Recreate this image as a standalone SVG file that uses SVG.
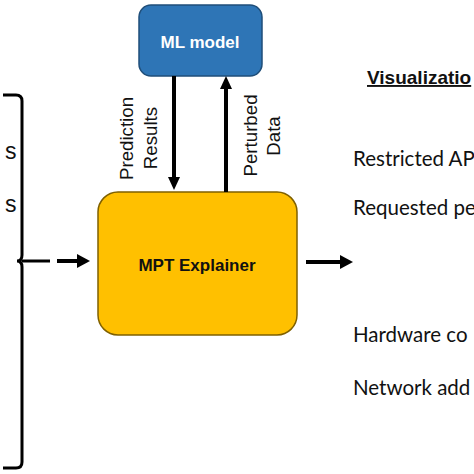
<svg xmlns="http://www.w3.org/2000/svg" width="474" height="474" viewBox="0 0 474 474">
<defs>
<style>
.lbl{font-family:"Liberation Sans",Arial,sans-serif;font-size:18.7px;fill:#111}
.side{font-family:"Liberation Sans",Arial,sans-serif;font-size:23px;fill:#111}
.bold{font-family:"Liberation Sans",Arial,sans-serif;font-weight:bold;font-size:17px}
.item{font-family:Lato,"Liberation Sans",sans-serif;font-size:20.5px;fill:#111}
.conn{stroke:#000;stroke-width:4;fill:none}
.head{fill:#000}
</style>
</defs>
<rect width="474" height="474" fill="#fff"/>
<g id="ml-model">
<rect x="139" y="5" width="123" height="71" rx="12" fill="#2E75B6" stroke="#1F4E79" stroke-width="1.5"/>
<text class="bold" x="200" y="48" text-anchor="middle" fill="#fff">ML model</text>
</g>
<g id="mpt-explainer">
<rect x="98" y="192" width="199" height="143" rx="20" fill="#FFC000" stroke="#7F6000" stroke-width="1.5"/>
<text class="bold" x="197" y="271" text-anchor="middle" fill="#111">MPT Explainer</text>
</g>
<g id="inputs">
<path d="M3,95 H16 Q22,95 22,101 V255 Q22,261 17,261 Q22,261 22,267 V462 Q22,468 16,468 H3" fill="none" stroke="#000" stroke-width="3"/>
<text class="side" x="16.5" y="159" text-anchor="end">s</text>
<text class="side" x="16.5" y="212" text-anchor="end">s</text>
</g>
<g id="visualization">
<text x="367" y="84" font-family="'Liberation Sans',Arial,sans-serif" font-weight="bold" font-size="19" fill="#111" text-decoration="underline">Visualizatio</text>
<text class="item" x="353" y="166">Restricted AP</text>
<text class="item" x="353" y="215">Requested pe</text>
<text class="item" x="353" y="342">Hardware co</text>
<text class="item" x="353" y="395">Network add</text>
</g>
<g id="connectors">
<line class="conn" x1="174" y1="76" x2="174" y2="178"/>
<polygon class="head" points="168,177 180,177 174,190"/>
<line class="conn" x1="226" y1="192" x2="226" y2="88"/>
<polygon class="head" points="220,89 232,89 226,76"/>
<line class="conn" x1="306" y1="262" x2="341" y2="262"/>
<polygon class="head" points="340,255 340,269 353,262"/>
<line x1="22" y1="261" x2="50" y2="261" stroke="#000" stroke-width="3"/>
<line class="conn" x1="57" y1="261" x2="78" y2="261"/>
<polygon class="head" points="77,254 77,268 90,261"/>
<text class="lbl" transform="translate(133,138.5) rotate(-90)" text-anchor="middle">Prediction</text>
<text class="lbl" transform="translate(157,138) rotate(-90)" text-anchor="middle">Results</text>
<text class="lbl" transform="translate(257,135.5) rotate(-90)" text-anchor="middle">Perturbed</text>
<text class="lbl" transform="translate(280,136) rotate(-90)" text-anchor="middle">Data</text>
</g>
</svg>
